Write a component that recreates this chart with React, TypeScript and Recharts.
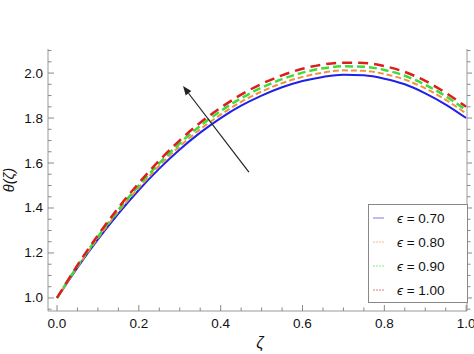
import { LineChart, Line, XAxis, YAxis, Legend, ReferenceLine } from "recharts";

const zeta = [0, 0.05, 0.1, 0.15, 0.2, 0.25, 0.3, 0.35, 0.4, 0.45, 0.5, 0.55, 0.6, 0.65, 0.7, 0.75, 0.8, 0.85, 0.9, 0.95, 1.0];

const eps070 = [1.0, 1.135, 1.26, 1.375, 1.48, 1.575, 1.66, 1.735, 1.8, 1.855, 1.9, 1.937, 1.965, 1.983, 1.993, 1.99, 1.975, 1.95, 1.91, 1.86, 1.8];
const eps080 = [1.0, 1.138, 1.266, 1.384, 1.49, 1.588, 1.675, 1.75, 1.815, 1.872, 1.918, 1.955, 1.983, 2.002, 2.012, 2.01, 1.996, 1.971, 1.932, 1.881, 1.82];
const eps090 = [1.0, 1.142, 1.272, 1.392, 1.5, 1.599, 1.688, 1.765, 1.831, 1.888, 1.935, 1.973, 2.002, 2.021, 2.03, 2.028, 2.014, 1.988, 1.948, 1.897, 1.835];
const eps100 = [1.0, 1.146, 1.279, 1.401, 1.511, 1.611, 1.701, 1.779, 1.846, 1.904, 1.952, 1.99, 2.019, 2.038, 2.046, 2.045, 2.031, 2.005, 1.965, 1.912, 1.85];

const xTicks = [0, 0.05, 0.1, 0.15, 0.2, 0.25, 0.3, 0.35, 0.4, 0.45, 0.5, 0.55, 0.6, 0.65, 0.7, 0.75, 0.8, 0.85, 0.9, 0.95, 1.0];
const yTicks = [0.95, 1.0, 1.05, 1.1, 1.15, 1.2, 1.25, 1.3, 1.35, 1.4, 1.45, 1.5, 1.55, 1.6, 1.65, 1.7, 1.75, 1.8, 1.85, 1.9, 1.95, 2.0, 2.05, 2.1];

const series = [
  { key: "e070", label: "0.70", values: eps070, color: "#1f22e6", width: 2, dash: undefined },
  { key: "e080", label: "0.80", values: eps080, color: "#f0923c", width: 2, dash: "6 3" },
  { key: "e090", label: "0.90", values: eps090, color: "#3cdc3c", width: 2.5, dash: "8 4" },
  { key: "e100", label: "1.00", values: eps100, color: "#dc1e1e", width: 2.5, dash: "10 6" },
];

const data = zeta.map((z, i) => {
  const row: Record<string, number> = { zeta: z };
  series.forEach((s) => {
    row[s.key] = s.values[i];
  });
  return row;
});

const FRAME = "#999";
const TICK = "#888";
const FONT = "'Liberation Sans', Arial, sans-serif";

const isMajor = (v: number) => Math.abs(v * 5 - Math.round(v * 5)) < 1e-6;

function BottomTick({ x, y, payload }: any) {
  const v = payload.value as number;
  const major = isMajor(v);
  return (
    <g>
      <line x1={x} x2={x} y1={y} y2={y - (major ? 6 : 3.5)} stroke={TICK} />
      {major && (
        <text x={x} y={y + 17} textAnchor="middle" fontSize={13.5} fill="#111" fontFamily={FONT}>
          {v.toFixed(1)}
        </text>
      )}
    </g>
  );
}

function TopTick({ x, y, payload }: any) {
  const major = isMajor(payload.value);
  return <line x1={x} x2={x} y1={y} y2={y + (major ? 6 : 3.5)} stroke={TICK} />;
}

function LeftTick({ x, y, payload }: any) {
  const v = payload.value as number;
  const major = isMajor(v);
  return (
    <g>
      <line x1={x} x2={x + (major ? 6 : 3.5)} y1={y} y2={y} stroke={TICK} />
      {major && (
        <text x={x - 5} y={y + 4.5} textAnchor="end" fontSize={13.5} fill="#111" fontFamily={FONT}>
          {v.toFixed(1)}
        </text>
      )}
    </g>
  );
}

function RightTick({ x, y, payload }: any) {
  const major = isMajor(payload.value);
  return <line x1={x} x2={x + (major ? 5 : 3.5)} y1={y} y2={y} stroke={TICK} />;
}

function LegendBox() {
  return (
    <div
      style={{
        width: 100,
        height: 99,
        boxSizing: "border-box",
        border: "1px solid #888",
        background: "#fff",
        paddingTop: 1,
        fontFamily: FONT,
        fontSize: 13.5,
        color: "#111",
      }}
    >
      {series.map((s) => (
        <div key={s.key} style={{ height: 24, display: "flex", alignItems: "center" }}>
          <svg width={28} height={24}>
            <line x1={4} x2={15} y1={12} y2={12} stroke={s.color} strokeOpacity={0.6} strokeWidth={1} strokeDasharray={s.dash ? "2 1" : undefined} />
          </svg>
          <span>
            <i>ϵ</i> = {s.label}
          </span>
        </div>
      ))}
    </div>
  );
}

function Arrow({ x1, y1, x2, y2 }: any) {
  const ang = Math.atan2(y2 - y1, x2 - x1);
  const L = 9;
  const W = 3.5;
  const bx = x2 - L * Math.cos(ang);
  const by = y2 - L * Math.sin(ang);
  const px = -Math.sin(ang) * W;
  const py = Math.cos(ang) * W;
  return (
    <g>
      <line x1={x1} y1={y1} x2={bx} y2={by} stroke="#222" strokeWidth={1.2} />
      <polygon points={`${x2},${y2} ${bx + px},${by + py} ${bx - px},${by - py}`} fill="#222" />
    </g>
  );
}

export default function App() {
  return (
    <div style={{ position: "absolute", left: 0, top: 0, width: 474, height: 354, background: "#fff" }}>
      <LineChart width={474} height={354} data={data} margin={{ top: 49, right: 0, bottom: 0, left: 0 }}>
        <XAxis
          dataKey="zeta"
          type="number"
          domain={[-0.022, 1.002]}
          allowDataOverflow
          ticks={xTicks}
          interval={0}
          height={43}
          tickSize={0}
          tickMargin={0}
          stroke={FRAME}
          tick={<BottomTick />}
          label={{
            content: () => (
              <text x={260} y={348} textAnchor="middle" fontSize={16} fontStyle="italic" fill="#111" fontFamily={FONT}>
                ζ
              </text>
            ),
          }}
        />
        <XAxis
          xAxisId="top"
          orientation="top"
          dataKey="zeta"
          type="number"
          domain={[-0.022, 1.002]}
          allowDataOverflow
          ticks={xTicks}
          interval={0}
          height={0}
          tickSize={0}
          tickMargin={0}
          stroke={FRAME}
          tick={<TopTick />}
        />
        <YAxis
          type="number"
          domain={[0.942, 2.107]}
          allowDataOverflow
          ticks={yTicks}
          interval={0}
          width={48}
          tickSize={0}
          tickMargin={0}
          stroke={FRAME}
          tick={<LeftTick />}
          label={{
            content: () => (
              <text x={14} y={180} transform="rotate(-90 14 180)" textAnchor="middle" fontSize={14.5} fontStyle="italic" fill="#111" fontFamily={FONT}>
                θ(ζ)
              </text>
            ),
          }}
        />
        <YAxis
          yAxisId="right"
          orientation="right"
          type="number"
          domain={[0.942, 2.107]}
          allowDataOverflow
          ticks={yTicks}
          interval={0}
          width={7}
          tickSize={0}
          tickMargin={0}
          stroke={FRAME}
          tick={<RightTick />}
        />
        {series.map((s) => (
          <Line
            key={s.key}
            type="monotone"
            dataKey={s.key}
            stroke={s.color}
            strokeWidth={s.width}
            strokeDasharray={s.dash}
            dot={false}
            activeDot={false}
            isAnimationActive={false}
          />
        ))}
        <ReferenceLine
          segment={[
            { x: 0.469, y: 1.56 },
            { x: 0.308, y: 1.942 },
          ]}
          ifOverflow="visible"
          shape={(p: any) => <Arrow {...p} />}
        />
        <Legend
          layout="vertical"
          align="center"
          verticalAlign="middle"
          content={() => <LegendBox />}
          wrapperStyle={{ position: "absolute", left: 368, top: 204, width: 100, height: 99 }}
        />
      </LineChart>
    </div>
  );
}
